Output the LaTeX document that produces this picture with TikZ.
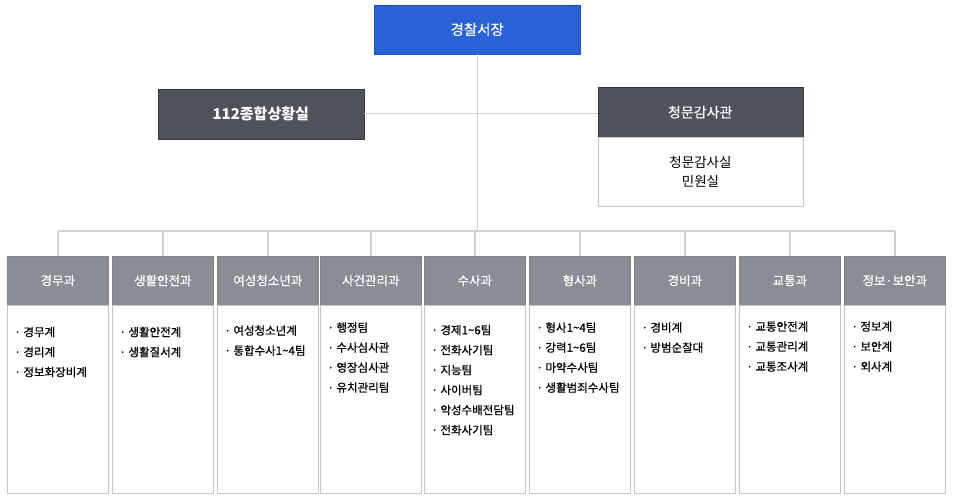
\documentclass[tikz,border=0pt]{standalone}
\usepackage{fontspec}
\setmainfont{Noto Sans CJK KR}
\newfontfamily\listfont{Noto Sans CJK KR}[FakeBold=0.7]
\newfontfamily\hdrfont{Noto Sans CJK KR}[FakeBold=0.35]
\definecolor{topblue}{HTML}{2961D6}
\definecolor{darkbox}{HTML}{50525A}
\definecolor{hdrgray}{HTML}{8A8D95}
\definecolor{linegray}{HTML}{D2D2D2}
\definecolor{bodyline}{HTML}{C4C4C4}
\newcommand\deptcol[5]{%
  \node[hdr, anchor=north west] (h#1) at (#2,255.5) {#3};
  \node[body, anchor=north west] (b#1) at (#2,305) {};
  \foreach \t [count=\k] in {#5}
    \node[item] (i#1-\k) at (#2+7,#4+20*\k-20) {·\hspace{2.5pt}\t};
}
\tikzset{
  hdr/.style={fill=hdrgray, draw=hdrgray!92!black, line width=0.6pt, minimum width=100.5pt, minimum height=49.5pt, text=white, font=\hdrfont\fontsize{12.5}{15}\selectfont, inner sep=0pt},
  body/.style={draw=bodyline, line width=1pt, fill=white, minimum width=100.5pt, minimum height=187.5pt, inner sep=0pt},
  item/.style={anchor=west, font=\listfont\fontsize{11.5}{14}\selectfont, inner sep=0pt},
  conn/.style={draw=linegray, line width=1.3pt},
}
\begin{document}
\begin{tikzpicture}[x=1pt,y=-1pt]
\useasboundingbox (0,0) rectangle (955,499);
% top
\node[fill=topblue, draw=topblue!85!black, minimum width=206pt, minimum height=48.5pt, inner sep=0pt, text=white, font=\hdrfont\fontsize{14.5}{17}\selectfont, anchor=north west] (chief) at (374,5) {경찰서장};
\node[fill=darkbox, draw=darkbox!70!black, minimum width=206pt, minimum height=49.5pt, inner sep=0pt, text=white, font=\fontsize{15}{18}\selectfont\bfseries, anchor=north west] (sit) at (157.5,89.3) {112종합상황실};
\node[fill=darkbox, draw=darkbox!70!black, minimum width=205pt, minimum height=49.5pt, inner sep=0pt, text=white, font=\hdrfont\fontsize{14}{17}\selectfont, anchor=north west] (aud) at (597.5,87.3) {청문감사관};
\node[draw=bodyline, line width=1pt, fill=white, minimum width=205pt, minimum height=69.5pt, inner sep=0pt, anchor=north west] (audb) at (597.5,136.8) {};
\node[align=center, font=\fontsize{13.5}{19.5}\selectfont, inner sep=0pt] (audt) at (audb.center) {청문감사실\\민원실};
% departments
\deptcol{1}{7.3}{경무과}{332}{경무계,경리계,정보화장비계}
\deptcol{2}{112.3}{생활안전과}{332}{생활안전계,생활질서계}
\deptcol{3}{217.3}{여성청소년과}{330.5}{여성청소년계,통합수사1\textasciitilde 4팀}
\deptcol{4}{320.3}{사건관리과}{327.5}{행정팀,수사심사관,영장심사관,유치관리팀}
\deptcol{5}{424.3}{수사과}{330}{경제1\textasciitilde 6팀,전화사기팀,지능팀,사이버팀,악성수배전담팀,전화사기팀}
\deptcol{6}{529.3}{형사과}{327.5}{형사1\textasciitilde 4팀,강력1\textasciitilde 6팀,마약수사팀,생활범죄수사팀}
\deptcol{7}{634.3}{경비과}{327.5}{경비계,방범순찰대}
\deptcol{8}{739.3}{교통과}{326.5}{교통안전계,교통관리계,교통조사계}
\deptcol{9}{844.3}{정보·보안과}{326.5}{정보계,보안계,외사계}
% connectors
\coordinate (busL) at (57.5,231);
\coordinate (mid) at (477.7,113.3);
\draw[conn] (h1.north |- busL) -- (h9.north |- busL);
\draw[conn] (chief.south -| mid) -- (mid |- busL);
\draw[conn] (sit.east |- mid) -- (aud.west |- mid);
\foreach \i in {1,...,9} \draw[conn] (h\i.north) -- (h\i.north |- busL);
\end{tikzpicture}
\end{document}
